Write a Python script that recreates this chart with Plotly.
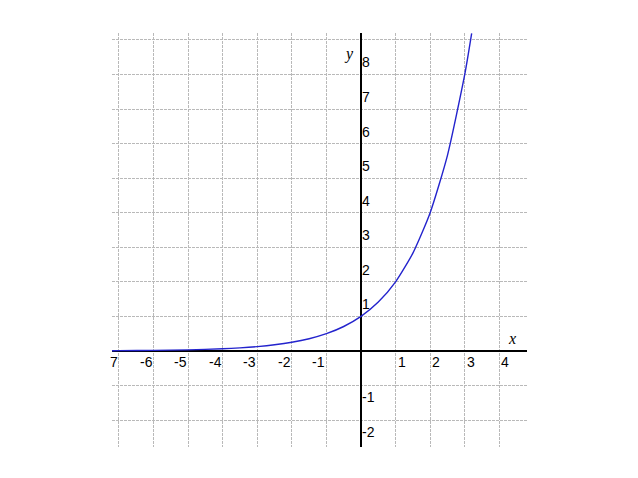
import plotly.graph_objects as go

# points (y = 2^x)
curve_x = [-7.2, -7, -6, -5, -4, -3.5, -3, -2.5, -2, -1.5, -1, -0.5, 0, 0.5, 1, 1.5, 2, 2.5, 3, 3.2]
curve_y = [0.007, 0.008, 0.016, 0.031, 0.0625, 0.088, 0.125, 0.177, 0.25, 0.354, 0.5, 0.707,
           1, 1.414, 2, 2.83, 4, 5.66, 8, 9.19]

x_ticks = [-7, -6, -5, -4, -3, -2, -1, 1, 2, 3, 4]
x_tick_text = ["7", "-6", "-5", "-4", "-3", "-2", "-1", "1", "2", "3", "4"]
y_ticks = [-2, -1, 1, 2, 3, 4, 5, 6, 7, 8]
y_tick_text = ["-2", "-1", "1", "2", "3", "4", "5", "6", "7", "8"]

fig = go.Figure()
fig.add_trace(go.Scatter(
    x=curve_x, y=curve_y, mode="lines",
    line=dict(color="rgb(35,35,205)", width=1.4, shape="spline", smoothing=0.6),
    cliponaxis=True, hoverinfo="skip",
))

label_font = dict(family="Liberation Sans, Arial", size=14, color="black")
annotations = []
for v, t in zip(x_ticks, x_tick_text):
    annotations.append(dict(
        x=v, y=0, xref="x", yref="y", text=t, showarrow=False, font=label_font,
        xanchor="right" if v < 0 else "left", yanchor="top",
        xshift=1 if v < 0 else 0, yshift=-1,
    ))
for v, t in zip(y_ticks, y_tick_text):
    annotations.append(dict(
        x=0, y=v, xref="x", yref="y", text=t, showarrow=False, font=label_font,
        xanchor="left", yanchor="bottom" if v > 0 else "top",
        xshift=-1, yshift=2 if v > 0 else -2,
    ))
axis_font = dict(family="Liberation Serif, Times New Roman", size=16, color="black")
annotations.append(dict(x=0, y=8.6, xref="x", yref="y", text="<i>y</i>", showarrow=False,
                        font=axis_font, xanchor="right", yanchor="middle", xshift=-5))
annotations.append(dict(x=4.36, y=0, xref="x", yref="y", text="<i>x</i>", showarrow=False,
                        font=axis_font, xanchor="center", yanchor="bottom", yshift=2))

grid = dict(showgrid=True, gridcolor="rgb(185,185,185)", gridwidth=1, griddash="3px,1px",
            dtick=1, tick0=0, showticklabels=False, ticks="",
            zeroline=True, zerolinecolor="black", zerolinewidth=2,
            showline=False, fixedrange=True)

fig.update_layout(
    width=638, height=478,
    margin=dict(l=104, r=119, t=25, b=39),
    paper_bgcolor="white", plot_bgcolor="white",
    showlegend=False,
    xaxis=dict(range=[-7.2, 4.8], **grid),
    yaxis=dict(range=[-2.78, 9.2], **grid),
    annotations=annotations,
)

fig.write_html("out.html")
